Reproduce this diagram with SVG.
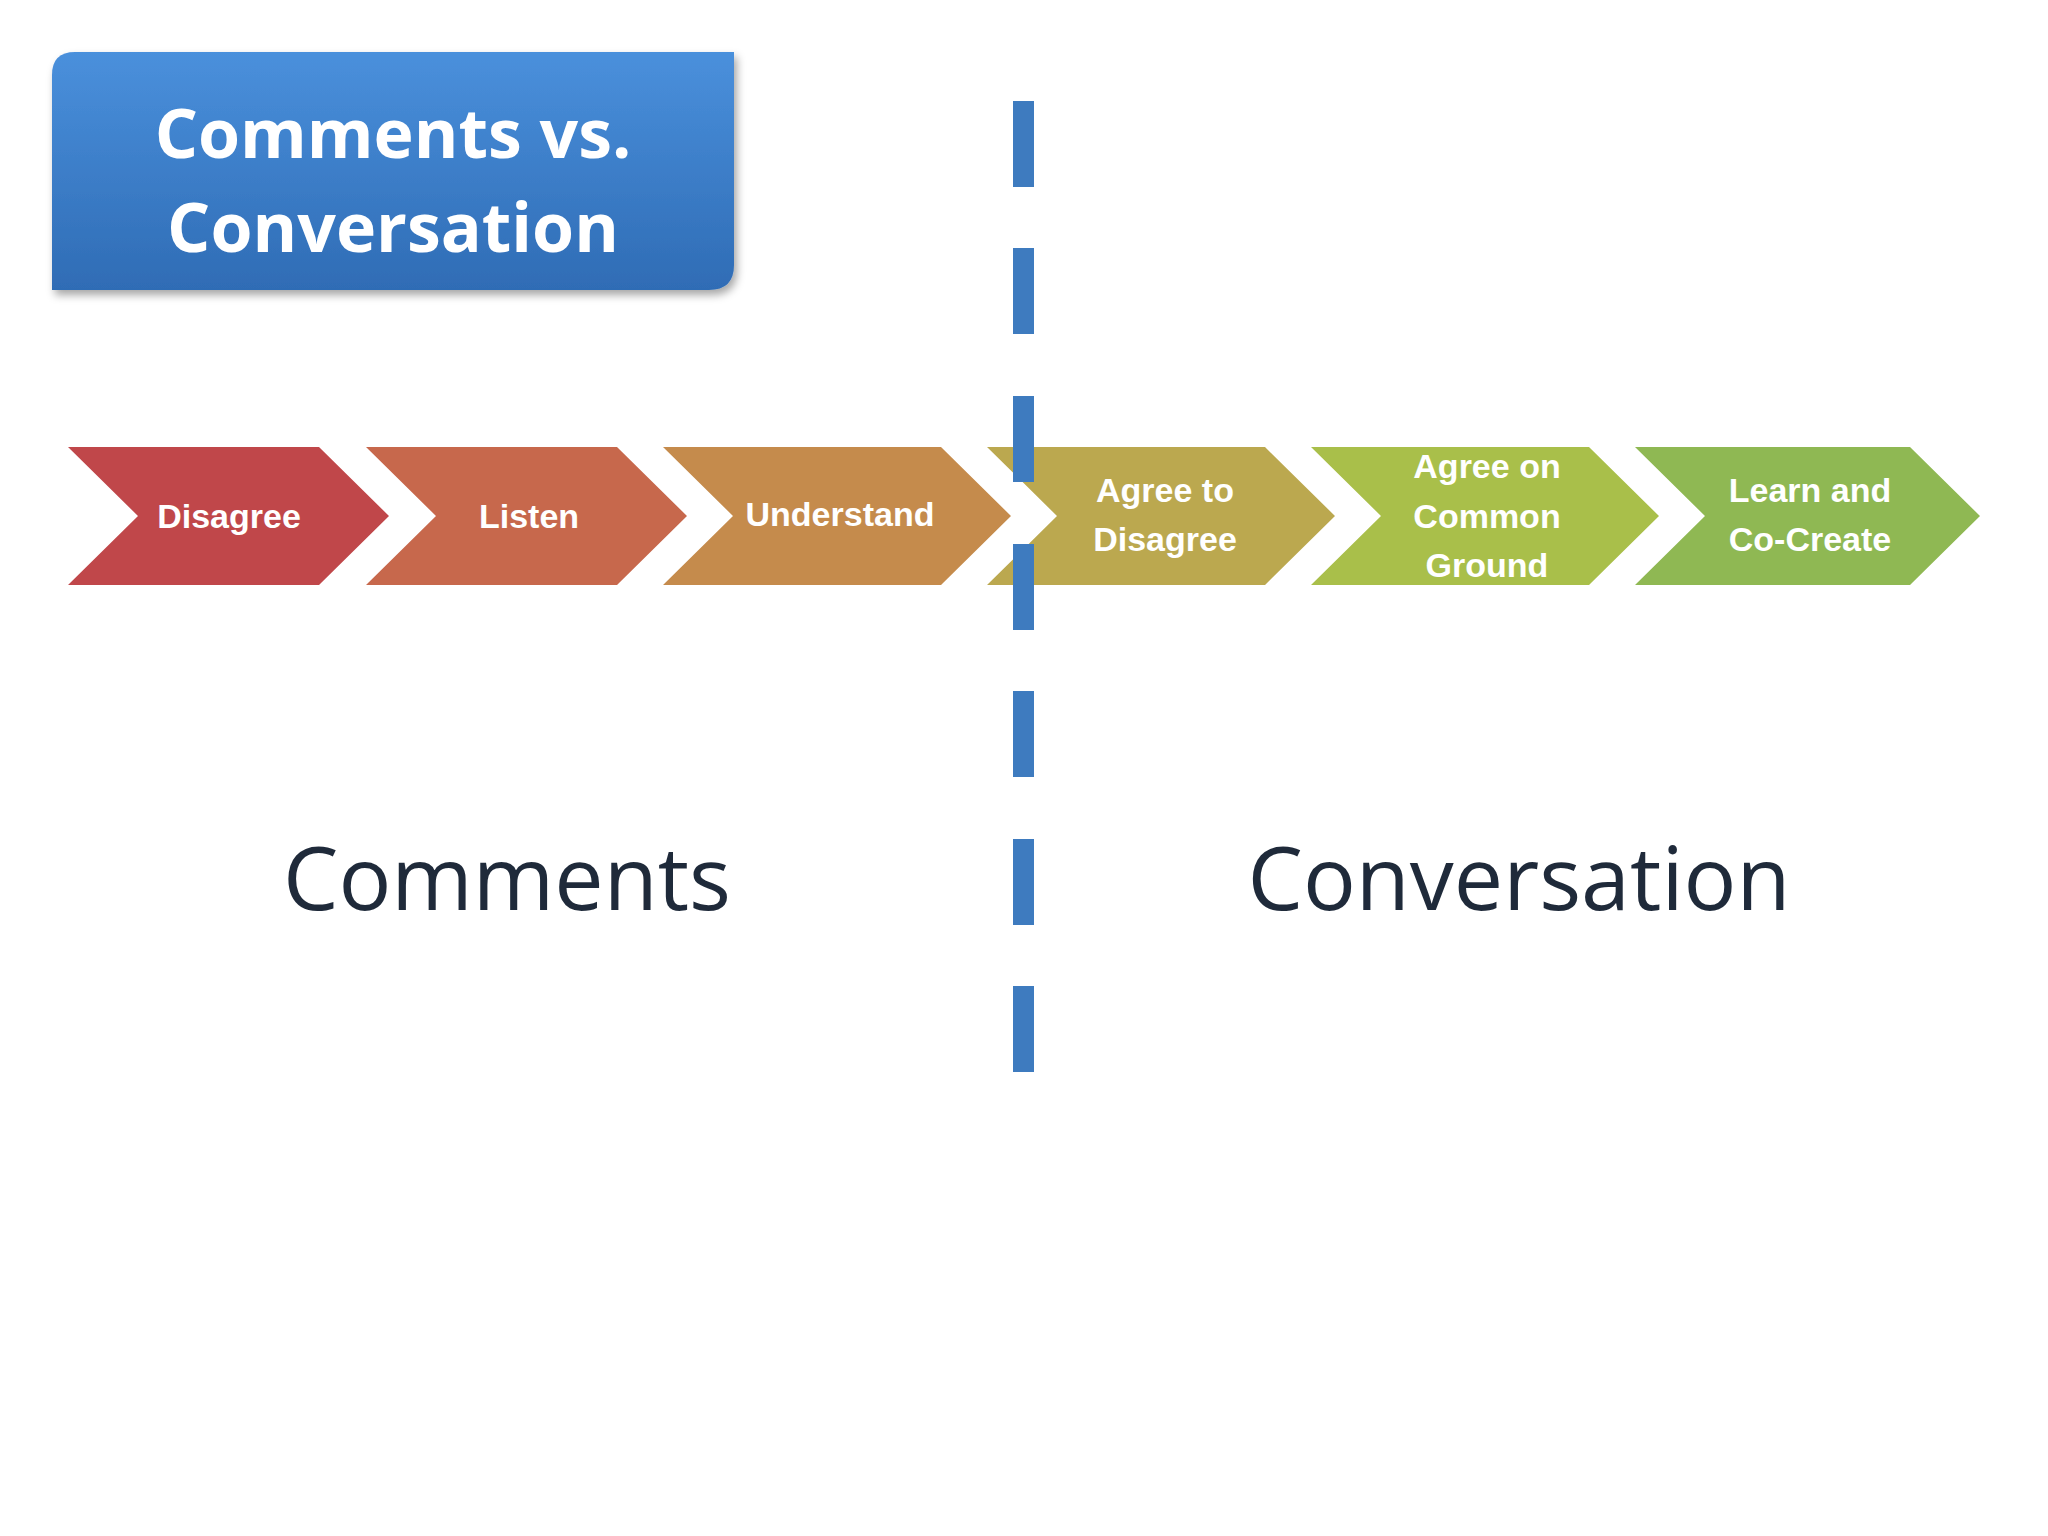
<svg xmlns="http://www.w3.org/2000/svg" width="2048" height="1536" viewBox="0 0 2048 1536">
<defs>
<linearGradient id="tg" x1="0" y1="0" x2="0" y2="1"><stop offset="0" stop-color="#4a90dc"/><stop offset="1" stop-color="#2f6cb5"/></linearGradient>
<filter id="sh" x="-5%" y="-5%" width="115%" height="120%"><feDropShadow dx="3" dy="5" stdDeviation="4" flood-color="#000" flood-opacity="0.35"/></filter>
<style>
.ct{font-family:"Liberation Sans",Arial,sans-serif;font-weight:bold;font-size:34px;fill:#fff;text-anchor:middle;dominant-baseline:central}
.big{font-family:"Open Sans","Liberation Sans",sans-serif;font-size:88px;fill:#1f2a3a;text-anchor:middle}
.dash{fill:#3e7bbf}
</style>
</defs>
<rect width="2048" height="1536" fill="#fff"/>
<g id="title" filter="url(#sh)">
<path d="M75 52 H734 V265 Q734 290 709 290 H52 V75 Q52 52 75 52 Z" fill="url(#tg)"/>
<text x="393" y="131" font-family="'Open Sans','Liberation Sans',sans-serif" font-weight="bold" font-size="68" fill="#fff" text-anchor="middle" dominant-baseline="central">Comments vs.</text>
<text x="393" y="225" font-family="'Open Sans','Liberation Sans',sans-serif" font-weight="bold" font-size="68" fill="#fff" text-anchor="middle" dominant-baseline="central">Conversation</text>
</g>
<g id="chevrons">
<g id="c1"><polygon points="68,447 319,447 389,516 319,585 68,585 138,516" fill="#c0474a"/><text class="ct" x="229" y="516">Disagree</text></g>
<g id="c2"><polygon points="366,447 617,447 687,516 617,585 366,585 436,516" fill="#c7684c"/><text class="ct" x="529" y="516">Listen</text></g>
<g id="c3"><polygon points="663,447 941,447 1011,516 941,585 663,585 733,516" fill="#c58b4c"/><text class="ct" x="840" y="514">Understand</text></g>
<g id="c4"><polygon points="987,447 1265,447 1335,516 1265,585 987,585 1057,516" fill="#bba84f"/><text class="ct" x="1165" y="490">Agree to</text><text class="ct" x="1165" y="539">Disagree</text></g>
<g id="c5"><polygon points="1311,447 1589,447 1659,516 1589,585 1311,585 1381,516" fill="#a9bf4a"/><text class="ct" x="1487" y="466">Agree on</text><text class="ct" x="1487" y="516">Common</text><text class="ct" x="1487" y="565">Ground</text></g>
<g id="c6"><polygon points="1635,447 1910,447 1980,516 1910,585 1635,585 1705,516" fill="#8fb853"/><text class="ct" x="1810" y="490">Learn and</text><text class="ct" x="1810" y="539">Co-Create</text></g>
</g>
<g id="divider">
<rect class="dash" x="1013" y="101" width="21" height="86"/>
<rect class="dash" x="1013" y="248" width="21" height="86"/>
<rect class="dash" x="1013" y="396" width="21" height="86"/>
<rect class="dash" x="1013" y="544" width="21" height="86"/>
<rect class="dash" x="1013" y="691" width="21" height="86"/>
<rect class="dash" x="1013" y="839" width="21" height="86"/>
<rect class="dash" x="1013" y="986" width="21" height="86"/>
</g>
<g id="labels">
<text class="big" x="507" y="910">Comments</text>
<text class="big" x="1519" y="910">Conversation</text>
</g>
</svg>
